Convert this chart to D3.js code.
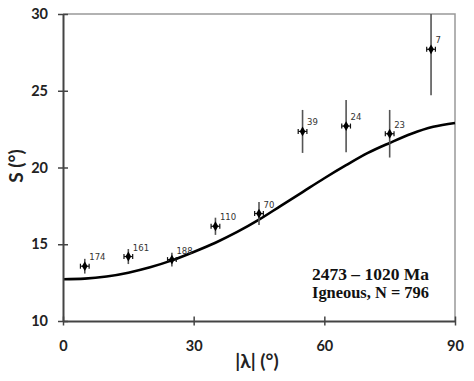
<!DOCTYPE html>
<html><head><meta charset="utf-8">
<script src="https://cdn.jsdelivr.net/npm/d3@7"></script>
<style>body{margin:0;background:#fff}svg{display:block}</style>
</head><body>
<script>
// Data
const latitudes = [5, 15, 25, 35, 45, 55, 65, 75, 84.5];
const sValues   = [13.57, 14.2, 14.0, 16.17, 17.0, 22.35, 22.7, 22.2, 27.7];
const sErr      = [0.48, 0.49, 0.45, 0.56, 0.75, 1.4, 1.7, 1.55, 3.0];
const latErr    = [1.0, 1.0, 1.0, 1.0, 1.0, 1.0, 1.0, 1.0, 1.0];
const counts    = ["174", "161", "188", "110", "70", "39", "24", "23", "7"];
const modelLat  = [0, 5, 10, 15, 20, 25, 30, 35, 40, 45, 50, 55, 60, 65, 70, 75, 80, 85, 90];
const modelS    = [12.72, 12.76, 12.9, 13.15, 13.5, 13.95, 14.5, 15.1, 15.8, 16.6, 17.5, 18.4, 19.3, 20.15, 20.95, 21.6, 22.2, 22.65, 22.9];
const xTicks = [0, 30, 60, 90];
const yTicks = [10, 15, 20, 25, 30];
const annotation = ["2473 – 1020 Ma", "Igneous, N = 796"];

const W = 474, H = 381;
const m = {left: 63, right: 19, top: 14, bottom: 60};
const svg = d3.select("body").append("svg").attr("width", W).attr("height", H);
const x = d3.scaleLinear().domain([0, 90]).range([m.left, W - m.right]);
const y = d3.scaleLinear().domain([10, 30]).range([H - m.bottom, m.top]);

// frame (top/right)
svg.append("path")
  .attr("d", `M${x(0)},${y(30)}H${x(90)}V${y(10)}`)
  .attr("fill", "none").attr("stroke", "#999").attr("stroke-width", 1.5);

svg.append("defs").append("clipPath").attr("id", "clip")
  .append("rect").attr("x", x(0)).attr("y", y(30)).attr("width", x(90) - x(0)).attr("height", y(10) - y(30));

// model curve
const line = d3.line().x((d, i) => x(modelLat[i])).y(d => y(d)).curve(d3.curveMonotoneX);
svg.append("path").datum(modelS).attr("d", line)
  .attr("fill", "none").attr("stroke", "#000").attr("stroke-width", 2.6);

// points
const g = svg.append("g").attr("clip-path", "url(#clip)");
const pts = latitudes.map((d, i) => ({x: d, y: sValues[i], ey: sErr[i], ex: latErr[i], n: counts[i]}));
const pg = g.selectAll("g.pt").data(pts).join("g");
pg.append("line").attr("x1", d => x(d.x)).attr("x2", d => x(d.x))
  .attr("y1", d => y(d.y - d.ey)).attr("y2", d => y(d.y + d.ey))
  .attr("stroke", "#555").attr("stroke-width", 1.6);
pg.append("line").attr("x1", d => x(d.x - d.ex)).attr("x2", d => x(d.x + d.ex))
  .attr("y1", d => y(d.y)).attr("y2", d => y(d.y))
  .attr("stroke", "#111").attr("stroke-width", 1.2);
pg.append("line").attr("x1", d => x(d.x - d.ex)).attr("x2", d => x(d.x - d.ex))
  .attr("y1", d => y(d.y) - 2.5).attr("y2", d => y(d.y) + 2.5)
  .attr("stroke", "#111").attr("stroke-width", 1.2);
pg.append("line").attr("x1", d => x(d.x + d.ex)).attr("x2", d => x(d.x + d.ex))
  .attr("y1", d => y(d.y) - 2.5).attr("y2", d => y(d.y) + 2.5)
  .attr("stroke", "#111").attr("stroke-width", 1.2);
pg.append("path").attr("d", d3.symbol(d3.symbolDiamond, 28))
  .attr("transform", d => `translate(${x(d.x)},${y(d.y)})`).attr("fill", "#000");
svg.selectAll("text.n").data(pts).join("text").attr("class", "n")
  .attr("x", d => x(d.x) + 4.5).attr("y", d => y(d.y) - 6)
  .attr("font-family", "DejaVu Sans").attr("font-size", 8.5).attr("fill", "#333")
  .text(d => d.n);

// axes
const xAxis = svg.append("g").attr("transform", `translate(0,${y(10)})`)
  .call(d3.axisBottom(x).tickValues(xTicks).tickSize(0).tickPadding(20));
xAxis.select(".domain").attr("stroke", "#444").attr("stroke-width", 2);
xAxis.selectAll(".tick").append("line").attr("y1", -4.5).attr("y2", 4.5).attr("stroke", "#444").attr("stroke-width", 1.5);
xAxis.selectAll("text").attr("font-family", "Lato").attr("font-weight", "bold").attr("font-size", 14.5).attr("fill", "#222");

const yAxis = svg.append("g").attr("transform", `translate(${x(0)},0)`)
  .call(d3.axisLeft(y).tickValues(yTicks).tickSize(0).tickPadding(15));
yAxis.select(".domain").attr("stroke", "#444").attr("stroke-width", 2);
yAxis.selectAll(".tick").append("line").attr("x1", -5).attr("x2", 5).attr("stroke", "#444").attr("stroke-width", 1.5);
yAxis.selectAll("text").attr("font-family", "Lato").attr("font-weight", "bold").attr("font-size", 14.5).attr("fill", "#222");

// titles
svg.append("text").attr("x", 257).attr("y", 368).attr("text-anchor", "middle")
  .attr("font-family", "Lato").attr("font-weight", "bold").attr("font-size", 19).attr("fill", "#222")
  .text("|λ| (°)");
svg.append("text").attr("transform", "translate(23,166) rotate(-90)").attr("text-anchor", "middle")
  .attr("font-family", "Lato").attr("font-weight", "bold").attr("font-size", 19).attr("fill", "#222")
  .text("S (°)");

// annotation
svg.selectAll("text.ann").data(annotation).join("text").attr("class", "ann")
  .attr("x", 312).attr("y", (d, i) => 280 + i * 18)
  .attr("font-family", "Liberation Serif").attr("font-weight", "bold")
  .attr("font-size", 16.5).attr("fill", "#111")
  .attr("textLength", 117).attr("lengthAdjust", "spacingAndGlyphs")
  .text(d => d);
</script>
</body></html>
